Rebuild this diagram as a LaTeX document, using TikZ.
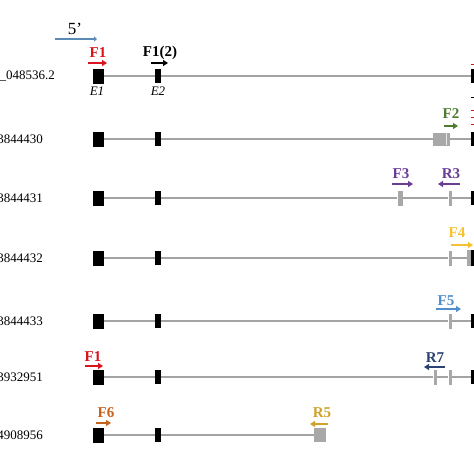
\documentclass[tikz,border=0pt]{standalone}
\usepackage{fontspec}
\setmainfont{Liberation Serif}
\usetikzlibrary{arrows.meta,positioning}
\definecolor{pred}{HTML}{D8141C}
\definecolor{pgreen}{HTML}{4E7D2F}
\definecolor{ppurple}{HTML}{6A3C94}
\definecolor{pyellow}{HTML}{F5C232}
\definecolor{pblue}{HTML}{4F8FCB}
\definecolor{pnavy}{HTML}{2B4373}
\definecolor{porange}{HTML}{C4631E}
\definecolor{pgold}{HTML}{CFA32A}
\definecolor{steel}{HTML}{5B8AB5}
\definecolor{intr}{HTML}{A3A3A3}
\definecolor{utr}{HTML}{A8A8A8}
\tikzset{
  exon/.style={rectangle,fill=black,inner sep=0pt,minimum width=11pt,minimum height=15pt},
  exsmall/.style={exon,minimum width=6pt,minimum height=14pt},
  endbox/.style={exon,minimum width=8pt,minimum height=14pt},
  utrbox/.style={rectangle,fill=utr,inner sep=0pt,minimum width=12pt,minimum height=14pt},
  tick/.style={rectangle,fill=utr,inner sep=0pt,minimum width=3pt,minimum height=15pt},
  intron/.style={draw=intr,line width=1.5pt},
  primer/.style={-{Triangle[length=5pt,width=6pt]},line width=2pt},
  primerlabel/.style={font=\fontsize{15}{15}\selectfont\bfseries,inner sep=0pt},
  rowlabel/.style={font=\fontsize{13}{13}\selectfont,anchor=east,inner sep=0pt},
  exlabel/.style={font=\fontsize{13}{13}\selectfont\itshape,inner sep=0pt}
}
\newcommand{\GeneRow}[4]{%
  \node[rowlabel] (#1lab) at (#4,#2) {#3};
  \node[exon] (#1a) at (98,#2) {};
  \node[exsmall] (#1b) at (158,#2) {};
  \draw[intron] (#1a.east) -- (#1b.west);
}
\newcommand{\Primer}[8]{%
  \node[primerlabel,text=#2] (#1) at (#4,#5) {#3};
  \coordinate (#1s) at (#6,#8);
  \coordinate (#1e) at (#7,#8);
  \draw[primer,#2] (#1s) -- (#1e);
}

\begin{document}
\begin{tikzpicture}[x=1pt,y=-1pt]
  \useasboundingbox[fill=white] (0,0) rectangle (474,474);
  \node[font=\fontsize{17}{17}\selectfont,inner sep=0pt] (five) at (75,29) {5’};
  \coordinate (fives) at (55,39);
  \coordinate (fivee) at (97,39);
  \draw[-{Triangle[length=3pt,width=5pt]},steel,line width=2.5pt] (fives) -- (fivee);

  \GeneRow{r1}{76}{\_048536.2}{55}
  \node[endbox] (r1end) at (475,76) {};
  \draw[intron] (r1b.east) -- (r1end.west);
  \node[exlabel] (e1) at (97,91) {E1};
  \node[exlabel] (e2) at (158,91) {E2};
  \Primer{pf1}{pred}{F1}{98}{53}{88}{107}{63}
  \Primer{pf12}{black}{F1(2)}{160}{53}{151}{168}{63}
  \draw[pred,line width=1pt] (471,64) -- (474,64);
  \draw[black,line width=1pt] (471,97) -- (474,97);
  \draw[pred,line width=1pt] (471,110) -- (474,110);
  \draw[pred,line width=1pt] (471,117) -- (474,117);
  \draw[pred,line width=1pt] (471,124) -- (474,124);

  \GeneRow{r2}{139}{3844430}{43}
  \node[utrbox,minimum width=17pt,minimum height=13pt] (r2g) at (441.5,139) {};
  \node[endbox] (r2end) at (475,139) {};
  \draw[intron] (r2b.east) -- (r2g.west);
  \draw[intron] (r2g.east) -- (r2end.west);
  \draw[white!75!utr,line width=0.6pt] (446.5,133) -- (446.5,145);
  \Primer{pf2}{pgreen}{F2}{451}{114}{444}{458}{126}

  \GeneRow{r3}{198}{3844431}{43}
  \node[tick,minimum width=5pt] (r3t1) at (400,198) {};
  \node[tick] (r3t2) at (450,198) {};
  \node[endbox] (r3end) at (475,198) {};
  \draw[intron] (r3b.east) -- (r3t1.west);
  \draw[intron] (r3t1.east) -- (r3t2.west);
  \draw[intron] (r3t2.east) -- (r3end.west);
  \Primer{pf3}{ppurple}{F3}{401}{174}{392}{413}{184}
  \Primer{pr3}{ppurple}{R3}{451}{174}{460}{438}{184}

  \GeneRow{r4}{258}{3844432}{43}
  \node[tick] (r4t) at (450,258) {};
  \node[utrbox,minimum width=4pt,minimum height=16pt] (r4g) at (469,258) {};
  \node[endbox,minimum height=16pt] (r4end) at (475,258) {};
  \draw[intron] (r4b.east) -- (r4t.west);
  \draw[intron] (r4t.east) -- (r4g.west);
  \Primer{pf4}{pyellow}{F4}{457}{233}{451}{473}{245}

  \GeneRow{r5}{321}{3844433}{43}
  \node[tick] (r5t) at (450,321) {};
  \node[endbox] (r5end) at (475,321) {};
  \draw[intron] (r5b.east) -- (r5t.west);
  \draw[intron] (r5t.east) -- (r5end.west);
  \Primer{pf5}{pblue}{F5}{446}{301}{436}{461}{309}

  \GeneRow{r6}{377}{3932951}{43}
  \node[tick] (r6t1) at (435,377) {};
  \node[tick] (r6t2) at (450,377) {};
  \node[endbox] (r6end) at (475,377) {};
  \draw[intron] (r6b.east) -- (r6t1.west);
  \draw[intron] (r6t1.east) -- (r6t2.west);
  \draw[intron] (r6t2.east) -- (r6end.west);
  \Primer{pf1b}{pred}{F1}{93}{357}{85}{103}{366}
  \Primer{pr7}{pnavy}{R7}{435}{358}{445}{424}{367}

  \GeneRow{r7}{435}{4908956}{43}
  \node[utrbox] (r7g) at (320,435) {};
  \draw[intron] (r7b.east) -- (r7g.west);
  \Primer{pf6}{porange}{F6}{106}{413}{96}{111}{423}
  \Primer{pr5}{pgold}{R5}{322}{413}{328}{310}{424}
\end{tikzpicture}
\end{document}
